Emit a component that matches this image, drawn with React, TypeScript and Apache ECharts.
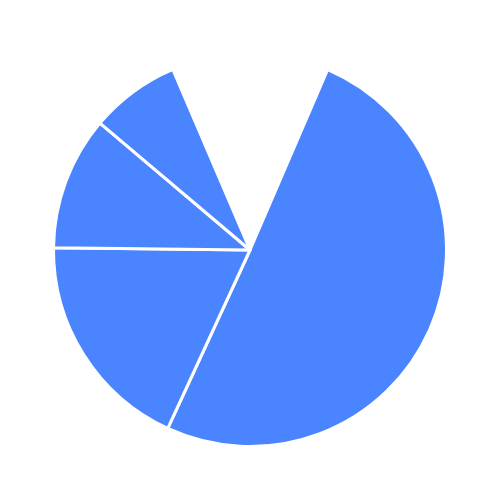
import { useEffect, useRef } from 'react';
import * as echarts from 'echarts';

// slice shares (last one is the empty gap at the top)
const sliceNames = ['A', 'B', 'C', 'D', 'gap'];
const sliceValues = [50.4, 18.3, 11.0, 7.4, 12.9];

const BLUE = '#4a84ff';

export default function App() {
  const chartRef = useRef<HTMLDivElement>(null);

  useEffect(() => {
    document.body.style.margin = '0';
    if (!chartRef.current) return;
    const chart = echarts.init(chartRef.current, undefined, { renderer: 'svg' });

    chart.setOption({
      animation: false,
      series: [
        {
          type: 'pie',
          center: ['50%', '50%'],
          radius: [0, 196.5],
          startAngle: 66.7,
          clockwise: true,
          silent: true,
          label: { show: false },
          labelLine: { show: false },
          itemStyle: { color: BLUE, borderColor: '#ffffff', borderWidth: 3 },
          data: sliceNames.map((name, i) =>
            name === 'gap'
              ? {
                  name,
                  value: sliceValues[i],
                  itemStyle: { color: 'rgba(0,0,0,0)', borderWidth: 0 },
                }
              : { name, value: sliceValues[i] }
          ),
        },
      ],
    });

    return () => chart.dispose();
  }, []);

  return <div ref={chartRef} style={{ width: 500, height: 500 }} />;
}
